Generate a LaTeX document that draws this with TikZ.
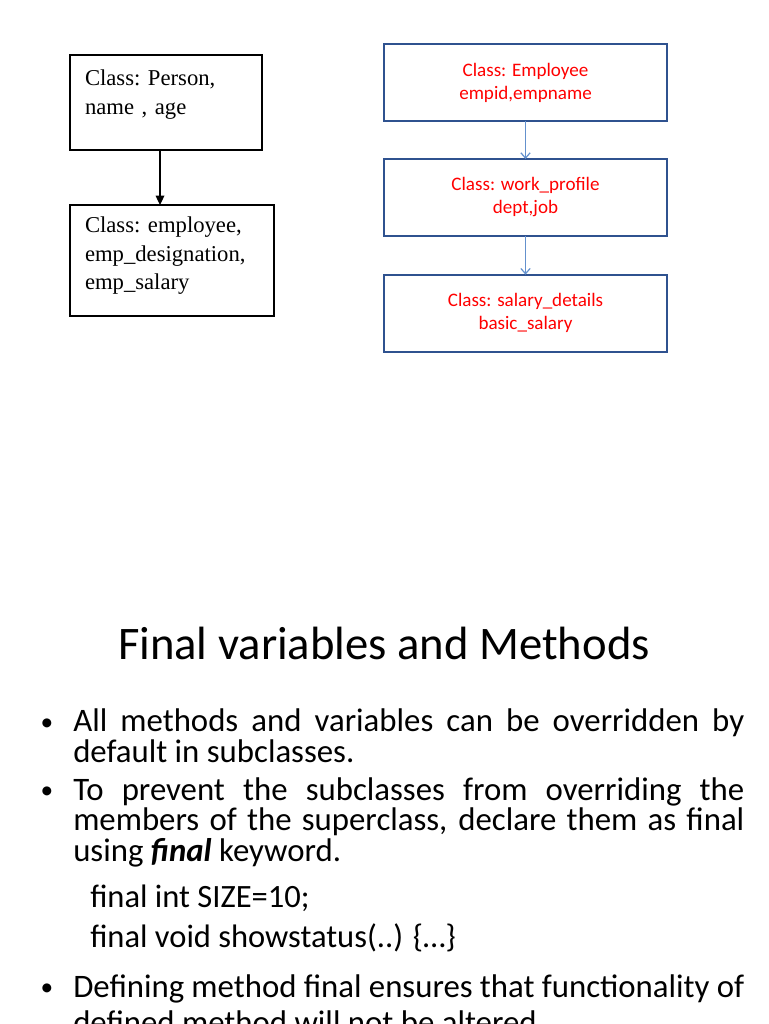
\documentclass[tikz,border=0pt]{standalone}
\usepackage{fontspec}
\setmainfont{Carlito}
\newfontfamily\timesface{Liberation Serif}
\usepackage{xcolor}
\usepackage{tikz}
\usetikzlibrary{positioning,arrows.meta}
\definecolor{boxblue}{RGB}{47,82,143}
\definecolor{arrowblue}{RGB}{100,145,205}
\definecolor{classred}{RGB}{255,0,0}
\newcommand{\bulletdot}{\makebox[0pt][r]{\raisebox{0.8pt}{\fontsize{19}{19}\selectfont\textbullet}\hspace{15pt}}}
\tikzset{
  serif-box/.style={draw=black, line width=0.9pt, align=left, inner xsep=11.25pt,
    inner ysep=0pt, outer sep=0pt, font=\timesface\frenchspacing\fontsize{17}{21.5}\selectfont},
  class-box/.style={draw=boxblue, line width=1.5pt, align=center, inner sep=0pt, outer sep=0pt,
    minimum width=212.25pt, minimum height=57.75pt, text=classred,
    font=\fontsize{14.3}{17.25}\selectfont},
  black-arrow/.style={-{Triangle[length=7pt, width=6.5pt]}, line width=0.9pt, draw=black},
  blue-arrow/.style={-{Straight Barb[length=4pt, width=7pt]}, line width=0.9pt, draw=arrowblue},
  slide-title/.style={font=\fontsize{35}{42}\selectfont, inner sep=0pt},
  bullet-text/.style={font=\fontsize{24.6}{23}\selectfont, text width=503.25pt,
    align=justify, inner sep=0pt},
  code-text/.style={font=\fontsize{24.4}{23}\selectfont, inner sep=0pt}
}
\begin{document}
\begin{tikzpicture}[x=0.75pt, y=-0.75pt]
\useasboundingbox (0,0) rectangle (768,1024);
\clip (0,0) rectangle (768,1024);

% Left hierarchy
\node[serif-box, minimum width=144pt, minimum height=71.25pt, text width=121.5pt] (person) at (166,102.5)
  {\rule{0pt}{17.5pt}Class: Person,\\ name , age\\ \mbox{}};
\node[serif-box, minimum width=153pt, minimum height=83.25pt, text width=130.5pt,
  below right=41.25pt and 0pt of person.south west, anchor=north west] (employee)
  {Class: employee,\\ emp\_designation,\\ emp\_salary\rule[-11pt]{0pt}{11pt}};
\draw[black-arrow] ([xshift=-4.5pt]person.south) -- ([xshift=-4.5pt]person.south |- employee.north);

% Right hierarchy
\node[class-box] (empclass) at (525.5,82.5) {Class: Employee\\ empid,empname};
\node[class-box, below=28.5pt of empclass] (workprofile) {Class: work\_profile\\ dept,job};
\node[class-box, below=29pt of workprofile] (salary) {Class: salary\_details\\ basic\_salary};
\draw[blue-arrow] (empclass) -- (workprofile);
\draw[blue-arrow] (workprofile) -- (salary);

% Slide text
\node[slide-title, anchor=base] (title) at (384,659) {Final variables and Methods};

\node[bullet-text, anchor=base west] (override) at (73,731.7)
  {\bulletdot All methods and variables can be overridden by\linebreak
   default in subclasses.};
\node[bullet-text, anchor=base west] (prevent) at (73,800)
  {\bulletdot To prevent the subclasses from overriding the\linebreak
   members of the superclass, declare them as final\linebreak
   using \textbf{\textit{final}} keyword.};
\node[code-text, anchor=base west] (sizeline) at (90,907.5) {final int SIZE=10;};
\node[code-text, anchor=base west] (showline) at (90,947) {final void showstatus(..) \{…\}};
\node[bullet-text, font=\fontsize{24.6}{27}\selectfont, anchor=base west] (ensures) at (73,997)
  {\bulletdot Defining method final ensures that functionality of\linebreak
   defined method will not be altered.};
\end{tikzpicture}
\end{document}
